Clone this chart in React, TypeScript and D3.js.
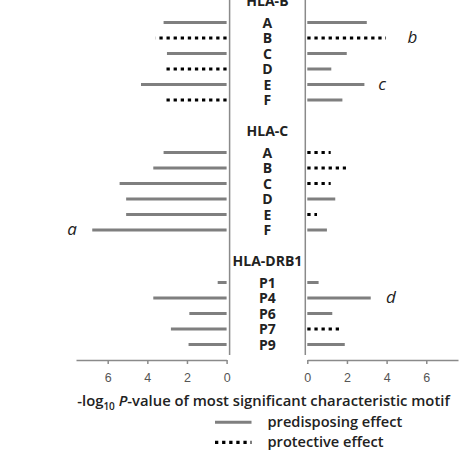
import { useRef, useEffect } from 'react';
import * as d3 from 'd3';

// Groups and motifs, top to bottom
const groupNames = ['HLA-B', 'HLA-C', 'HLA-DRB1'];
const groupMotifs = [
  ['A', 'B', 'C', 'D', 'E', 'F'],
  ['A', 'B', 'C', 'D', 'E', 'F'],
  ['P1', 'P4', 'P6', 'P7', 'P9'],
];

// -log10 P values, one per motif row (same order as above)
const leftValues = [3.18, 3.59, 3.01, 3.11, 4.32, 3.21, 3.18, 3.7, 5.4, 5.07, 5.07, 6.78, 0.45, 3.7, 1.88, 2.81, 1.92];
const leftEffects = ['pre', 'pro', 'pre', 'pro', 'pre', 'pro', 'pre', 'pre', 'pre', 'pre', 'pre', 'pre', 'pre', 'pre', 'pre', 'pre', 'pre'];
const rightValues = [3.0, 3.97, 1.99, 1.21, 2.88, 1.77, 1.18, 1.95, 1.18, 1.41, 0.49, 0.99, 0.57, 3.2, 1.26, 1.72, 1.89];
const rightEffects = ['pre', 'pro', 'pre', 'pre', 'pre', 'pre', 'pro', 'pro', 'pro', 'pre', 'pro', 'pre', 'pre', 'pre', 'pre', 'pro', 'pre'];

const xTicks = [0, 2, 4, 6];
const xMax = 7.6;

// italic panel letters: row index, side, x position in axis units
const annotations = [
  { label: 'a', row: 11, side: 'left', at: 7.8 },
  { label: 'b', row: 1, side: 'right', at: 5.3 },
  { label: 'c', row: 4, side: 'right', at: 3.77 },
  { label: 'd', row: 13, side: 'right', at: 4.22 },
];

const legendItems = [
  { label: 'predisposing effect', effect: 'pre' },
  { label: 'protective effect', effect: 'pro' },
];

const GRAY = '#7f7f7f';
const AXIS = '#8a8a8a';
const FONT = '"Open Sans", "DejaVu Sans", sans-serif';

const W = 474;
const H = 474;
const axisY = 360;
const rowStep = 15.5;
const groupGap = 52.5; // px from last row of a group to first row of next
const titleOffset = 22;

export default function App() {
  const leftAxisRef = useRef<SVGGElement>(null);
  const rightAxisRef = useRef<SVGGElement>(null);

  const xLeft = d3.scaleLinear().domain([0, xMax]).range([226.6, 76]);
  const xRight = d3.scaleLinear().domain([0, xMax]).range([307.3, 458]);

  // slot positions for each row
  const extra = groupGap / rowStep - 1;
  const rows: { group: number; motif: string; slot: number }[] = [];
  const titles: { name: string; slot: number }[] = [];
  let count = 0;
  groupMotifs.forEach((motifs, g) => {
    const first = count + g * extra;
    titles.push({ name: groupNames[g], slot: first - titleOffset / rowStep });
    motifs.forEach((m, i) => rows.push({ group: g, motif: m, slot: first + i }));
    count += motifs.length;
  });
  const y = d3.scaleLinear().domain([0, 1]).range([22.5, 22.5 + rowStep]);

  const labelX = (xLeft(0) + xRight(0)) / 2 + 0.5;

  useEffect(() => {
    [
      { ref: leftAxisRef, scale: xLeft },
      { ref: rightAxisRef, scale: xRight },
    ].forEach(({ ref, scale }) => {
      if (!ref.current) return;
      const g = d3.select(ref.current);
      g.selectAll('*').remove();
      g.call(d3.axisBottom(scale).tickValues(xTicks).tickSizeInner(4).tickSizeOuter(0).tickPadding(9));
      g.select('.domain').attr('stroke', AXIS).attr('stroke-width', 1.5);
      g.selectAll('.tick line').attr('stroke', AXIS).attr('stroke-width', 1.5);
      g.selectAll('.tick text')
        .attr('font-family', '"Liberation Sans", Arial, sans-serif')
        .attr('font-size', 12.5)
        .attr('fill', '#555');
    });
  }, []);

  const bar = (x0: number, x1: number, yy: number, effect: string, key: string) =>
    effect === 'pro' ? (
      <line key={key} x1={x0} x2={x1} y1={yy} y2={yy} stroke="#000" strokeWidth={3.2} strokeDasharray="3.3 3.8" />
    ) : (
      <line key={key} x1={x0} x2={x1} y1={yy} y2={yy} stroke={GRAY} strokeWidth={3} />
    );

  return (
    <svg width={W} height={H} style={{ position: 'absolute', left: 0, top: 0, background: '#fff' }}>
      {/* vertical panel lines */}
      <line x1={xLeft(0) + 3} x2={xLeft(0) + 3} y1={0} y2={355} stroke={AXIS} strokeWidth={1.5} />
      <line x1={xRight(0) - 2} x2={xRight(0) - 2} y1={0} y2={355} stroke={AXIS} strokeWidth={1.5} />

      {rows.map((r, i) => (
        <g key={`row-${i}`}>
          {bar(xLeft(0), xLeft(leftValues[i]), y(r.slot), leftEffects[i], `l${i}`)}
          {bar(xRight(0), xRight(rightValues[i]), y(r.slot), rightEffects[i], `r${i}`)}
          <text
            x={labelX}
            y={y(r.slot)}
            dy="0.36em"
            textAnchor="middle"
            fontFamily={FONT}
            fontWeight={700}
            fontSize={14}
            fill="#222"
          >
            {r.motif}
          </text>
        </g>
      ))}

      {titles.map((t) => (
        <text
          key={t.name}
          x={labelX}
          y={y(t.slot)}
          dy="0.36em"
          textAnchor="middle"
          fontFamily={FONT}
          fontWeight={700}
          fontSize={14}
          fill="#222"
        >
          {t.name}
        </text>
      ))}

      {annotations.map((a) => (
        <text
          key={a.label}
          x={a.side === 'left' ? xLeft(a.at) : xRight(a.at)}
          y={y(rows[a.row].slot)}
          dy="0.3em"
          textAnchor="middle"
          fontFamily={FONT}
          fontStyle="italic"
          fontSize={17}
          fill="#222"
        >
          {a.label}
        </text>
      ))}

      <g ref={leftAxisRef} transform={`translate(0,${axisY})`} />
      <g ref={rightAxisRef} transform={`translate(0,${axisY})`} />

      <text x={263.5} y={405.5} textAnchor="middle" fontFamily={FONT} fontWeight={600} fontSize={14.8} fill="#222">
        -log
        <tspan fontSize={10} dy={4}>10</tspan>
        <tspan dy={-4}> </tspan>
        <tspan fontStyle="italic">P</tspan>
        -value of most significant characteristic motif
      </text>

      {legendItems.map((l, i) => (
        <g key={l.label} transform={`translate(0,${422.3 + i * 20})`}>
          {bar(215, 251.5, 0, l.effect, `leg${i}`)}
          <text x={267.5} y={0} dy="0.34em" fontFamily={FONT} fontWeight={600} fontSize={14.6} fill="#222">
            {l.label}
          </text>
        </g>
      ))}
    </svg>
  );
}
